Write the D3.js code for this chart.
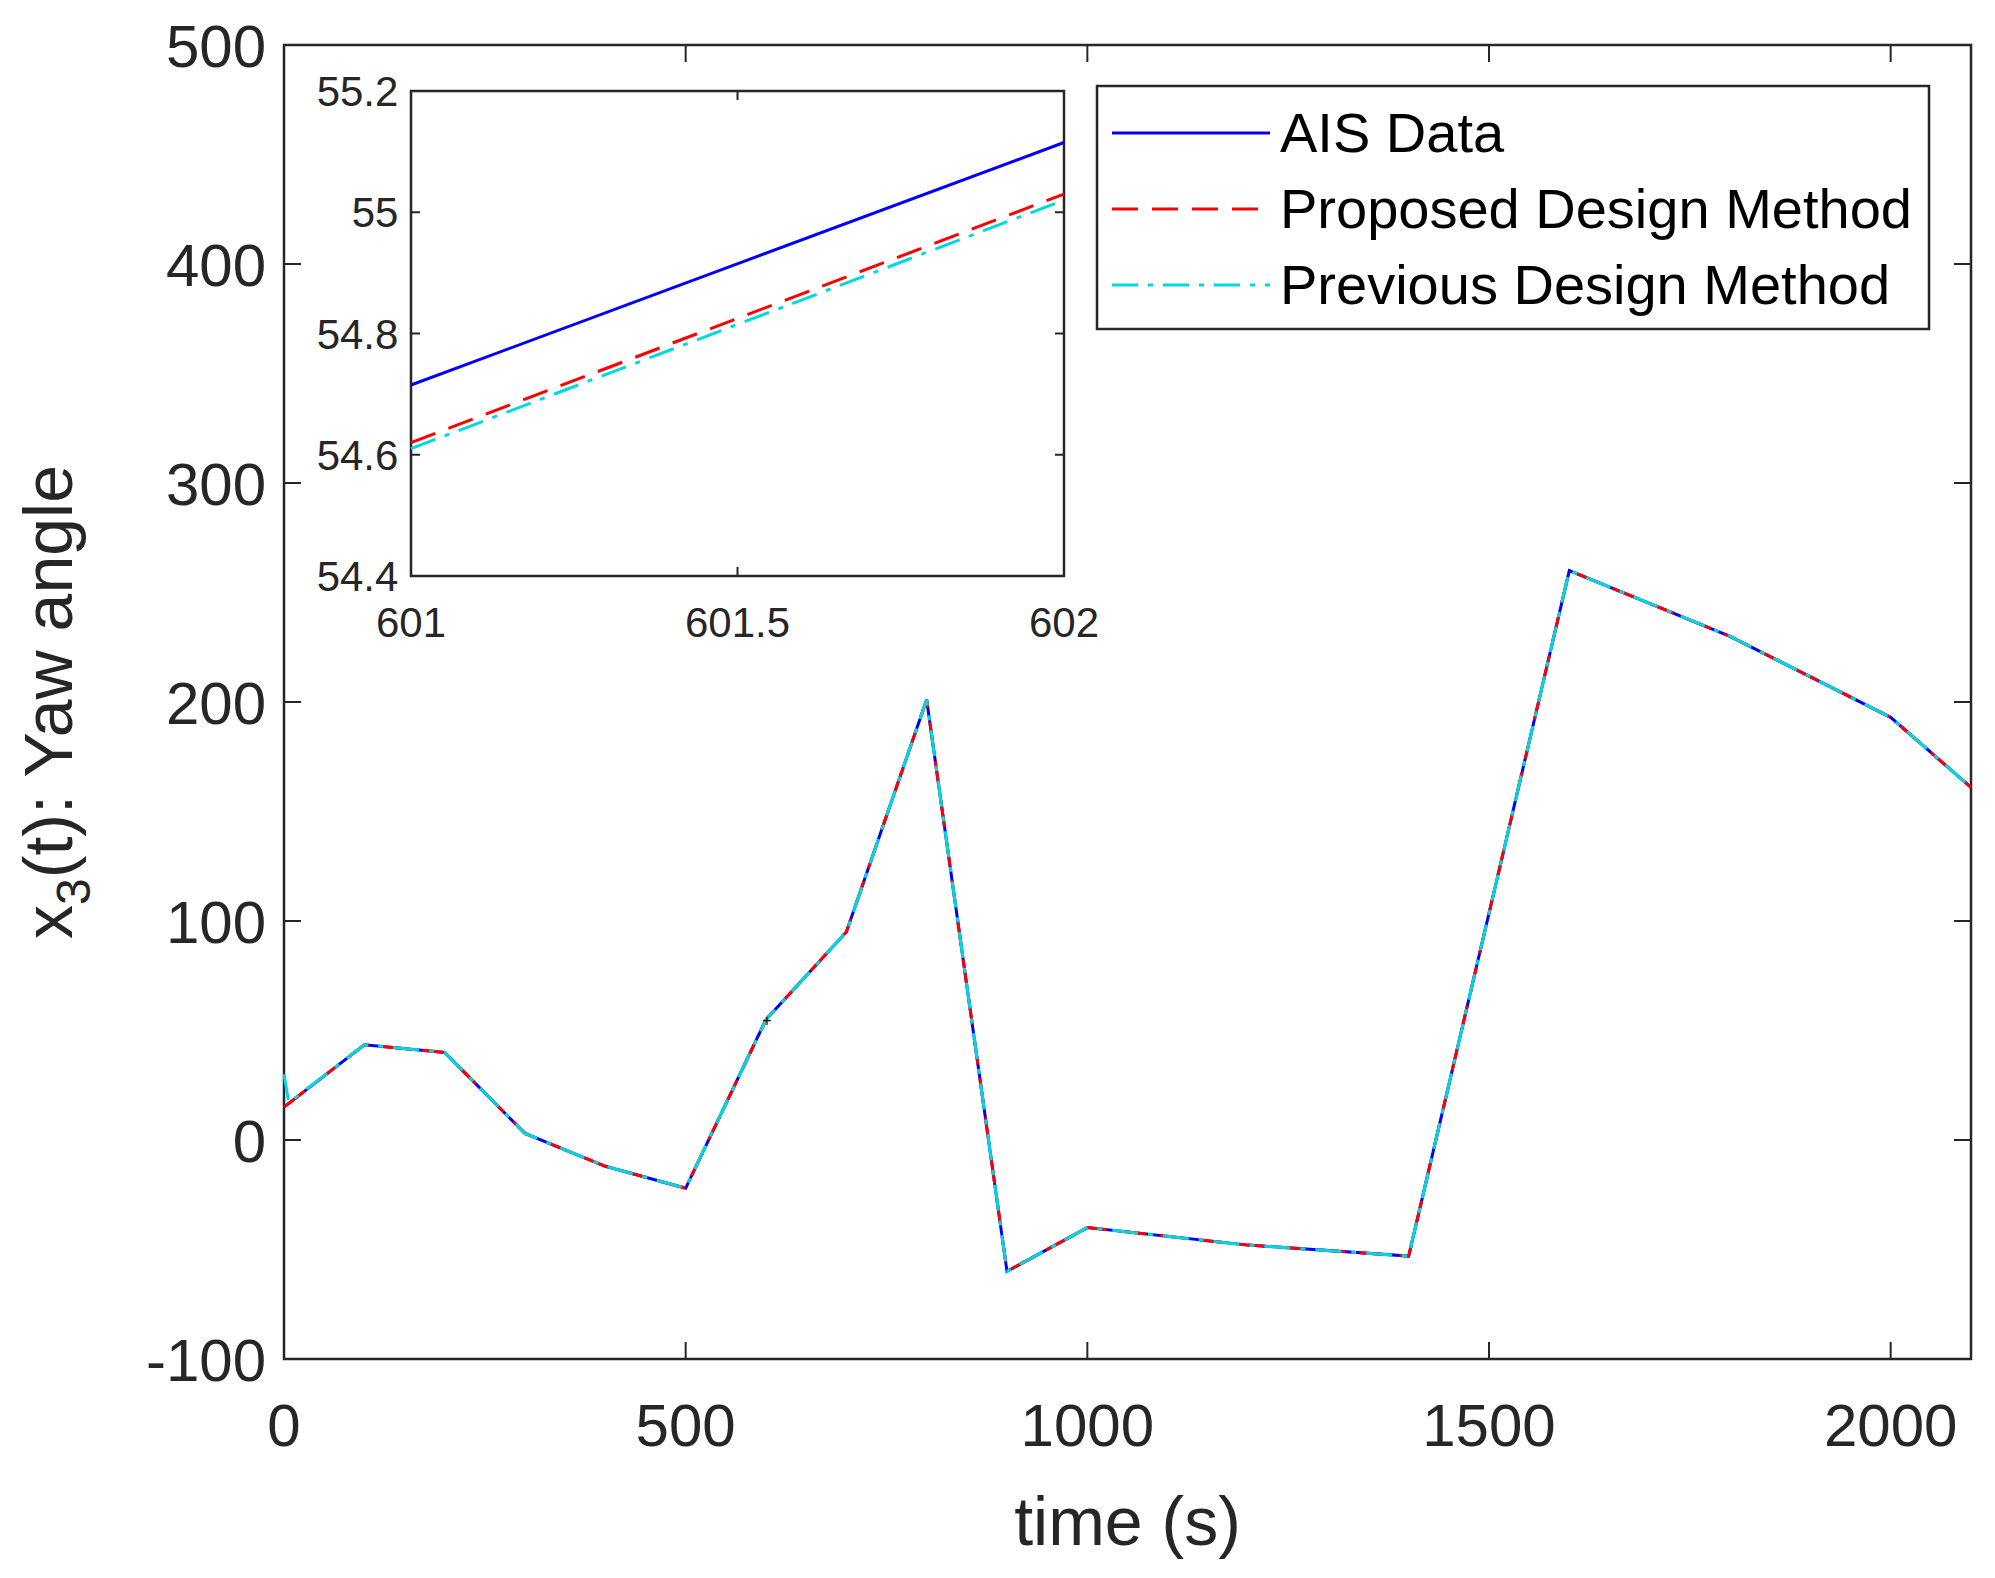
<!DOCTYPE html>
<html><head><meta charset="utf-8">
<script src="https://cdn.jsdelivr.net/npm/d3@7"></script>
<style>body{margin:0;background:#fff}svg{display:block;font-family:"Liberation Sans",Arial,sans-serif}</style>
</head><body><svg id="chart" width="1995" height="1578"></svg>
<script>
// données
const times = [0, 100, 200, 300, 400, 500, 600, 700, 800, 900, 1000, 1200, 1400, 1600, 1800, 2000, 2100];
const aisYaw = [15, 43.5, 40, 3, -12, -22, 55, 95, 201, -60, -40, -48, -53, 260, 230, 193, 161];
const proposedYaw = [15, 43.5, 40, 3, -12, -22, 55, 95, 201, -60, -40, -48, -53, 260, 230, 193, 161];
const previousTimes = [0, 6, 100, 200, 300, 400, 500, 600, 700, 800, 900, 1000, 1200, 1400, 1600, 1800, 2000, 2100];
const previousYaw = [30, 17, 43.5, 40, 3, -12, -22, 55, 95, 201, -60, -40, -48, -53, 260, 230, 193, 161];
const zoomTimes = [601, 602];
const zoomAis = [54.715, 55.115];
const zoomProposed = [54.62, 55.03];
const zoomPrevious = [54.61, 55.02];
const xTicks = [0, 500, 1000, 1500, 2000];
const yTicks = [-100, 0, 100, 200, 300, 400, 500];
const zxTicks = [601, 601.5, 602];
const zyTicks = [54.4, 54.6, 54.8, 55, 55.2];
const seriesNames = ["AIS Data", "Proposed Design Method", "Previous Design Method"];
const seriesColors = ["#0000ff", "#ff0000", "#00d8e0"];
const seriesDash = [null, "26,14", "26,10,5,10"];

const svg = d3.select("#chart");
const m = { left: 284, right: 1971, top: 45, bottom: 1359 };

const x = d3.scaleLinear().domain([0, 2100]).range([m.left, m.right]);
const y = d3.scaleLinear().domain([-100, 500]).range([m.bottom, m.top]);

// cadre + axes
function axes(g, xs, ys, xt, yt, fs, tick, fmt) {
    const [x0, x1] = xs.range(), [y0, y1] = ys.range();
    g.append("rect").attr("x", x0).attr("y", y1).attr("width", x1 - x0).attr("height", y0 - y1)
        .attr("fill", "#fff").attr("stroke", "#262626").attr("stroke-width", 2.5);
    xt.forEach(v => {
        const px = xs(v);
        g.append("line").attr("x1", px).attr("x2", px).attr("y1", y0).attr("y2", y0 - tick).attr("stroke", "#262626").attr("stroke-width", 2);
        g.append("line").attr("x1", px).attr("x2", px).attr("y1", y1).attr("y2", y1 + tick).attr("stroke", "#262626").attr("stroke-width", 2);
        g.append("text").attr("x", px).attr("y", y0 + fs * 1.45).attr("text-anchor", "middle")
            .attr("font-size", fs).attr("fill", "#262626").text(fmt(v));
    });
    yt.forEach(v => {
        const py = ys(v);
        g.append("line").attr("x1", x0).attr("x2", x0 + tick).attr("y1", py).attr("y2", py).attr("stroke", "#262626").attr("stroke-width", 2);
        g.append("line").attr("x1", x1).attr("x2", x1 - tick).attr("y1", py).attr("y2", py).attr("stroke", "#262626").attr("stroke-width", 2);
        g.append("text").attr("x", x0 - fs * 0.3).attr("y", py + fs * 0.36).attr("text-anchor", "end")
            .attr("font-size", fs).attr("fill", "#262626").text(fmt(v));
    });
}

const main = svg.append("g");
axes(main, x, y, xTicks, yTicks, 60, 17, d => d);

const line = d3.line().x(d => x(d[0])).y(d => y(d[1]));
const curves = [d3.zip(times, aisYaw), d3.zip(times, proposedYaw), d3.zip(previousTimes, previousYaw)];
curves.forEach((c, i) => {
    main.append("path").attr("d", line(c)).attr("fill", "none")
        .attr("stroke", seriesColors[i]).attr("stroke-width", 3)
        .attr("stroke-dasharray", seriesDash[i]);
});
// petit marqueur au point zoomé
main.append("text").attr("x", x(601)).attr("y", y(55) + 6).attr("text-anchor", "middle")
    .attr("font-size", 16).attr("fill", "#000").text("+");

main.append("text").attr("x", (m.left + m.right) / 2).attr("y", 1545).attr("text-anchor", "middle")
    .attr("font-size", 68).attr("fill", "#262626").text("time (s)");
const yl = main.append("text").attr("transform", `translate(72, ${(m.top + m.bottom) / 2}) rotate(-90)`)
    .attr("text-anchor", "middle").attr("font-size", 68).attr("fill", "#262626");
yl.append("tspan").text("x");
yl.append("tspan").attr("font-size", 48).attr("dy", 18).text("3");
yl.append("tspan").attr("dy", -18).text("(t): Yaw angle");

// encart (zoom)
const zx = d3.scaleLinear().domain([601, 602]).range([411, 1064]);
const zy = d3.scaleLinear().domain([54.4, 55.2]).range([576, 91]);
const inset = svg.append("g");
axes(inset, zx, zy, zxTicks, zyTicks, 42, 9, d => d);
const zline = d3.line().x(d => zx(d[0])).y(d => zy(d[1]));
[zoomAis, zoomProposed, zoomPrevious].forEach((vals, i) => {
    inset.append("path").attr("d", zline(d3.zip(zoomTimes, vals))).attr("fill", "none")
        .attr("stroke", seriesColors[i]).attr("stroke-width", 3)
        .attr("stroke-dasharray", seriesDash[i]);
});

// légende
const lg = svg.append("g");
lg.append("rect").attr("x", 1097).attr("y", 86).attr("width", 832).attr("height", 243)
    .attr("fill", "#fff").attr("stroke", "#262626").attr("stroke-width", 2.5);
seriesNames.forEach((n, i) => {
    const ly = 133 + i * 76;
    lg.append("line").attr("x1", 1112).attr("x2", 1270).attr("y1", ly).attr("y2", ly)
        .attr("stroke", seriesColors[i]).attr("stroke-width", 3).attr("stroke-dasharray", seriesDash[i]);
    lg.append("text").attr("x", 1280).attr("y", ly + 19).attr("font-size", 56).attr("fill", "#000").text(n);
});
</script></body></html>
